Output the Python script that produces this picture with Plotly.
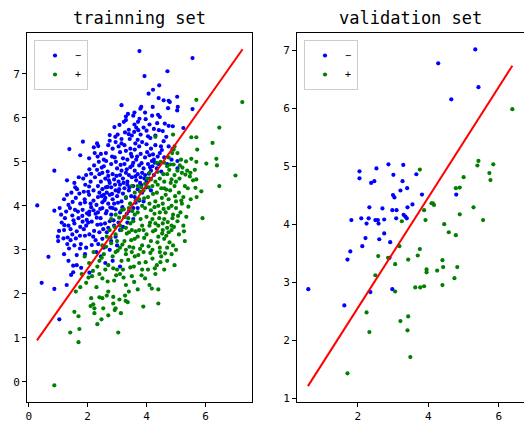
import plotly.graph_objects as go

# training set, class "-" (blue)
train_neg = [
    (3.76, 7.52), (5.56, 7.36), (4.71, 7.06), (3.93, 6.95), (4.43, 6.74), (4.22, 6.64), (4.07, 6.55),
    (3.15, 6.29), (5.04, 6.48), (4.41, 6.45), (4.58, 6.40), (4.75, 6.39), (4.79, 6.36), (5.56, 6.20),
    (5.06, 6.25), (5.04, 6.17), (4.73, 6.22), (3.82, 6.25), (4.21, 6.25), (4.19, 6.05), (4.39, 6.07),
    (3.37, 6.09), (3.59, 6.12), (3.79, 6.21), (3.30, 6.03), (4.45, 6.02), (3.55, 6.05), (3.95, 6.12),
    (3.76, 5.98), (4.36, 5.88), (4.62, 5.87), (4.75, 5.82), (4.89, 5.81), (5.25, 5.77), (3.08, 5.84),
    (2.91, 5.79), (3.23, 5.91), (3.59, 5.85), (3.71, 5.91), (3.40, 5.73), (3.58, 5.68), (3.80, 5.62),
    (3.50, 5.60), (3.40, 5.63), (2.75, 5.61), (2.94, 5.57), (3.90, 5.78), (4.00, 5.71), (4.10, 5.85),
    (4.25, 5.75), (4.05, 5.58), (4.13, 5.54), (4.30, 5.60), (3.65, 5.78), (3.30, 5.95), (4.55, 5.70),
    (3.15, 5.52),
    (1.84, 5.46), (1.38, 5.29), (2.32, 5.42), (2.36, 5.36), (2.21, 5.33), (2.75, 5.48), (2.70, 5.38),
    (2.85, 5.30), (3.05, 5.35), (3.15, 5.42), (3.25, 5.38), (2.24, 5.20), (2.45, 5.18), (2.62, 5.20),
    (2.92, 5.10), (2.34, 5.12), (3.10, 5.22), (3.30, 5.25), (3.45, 5.30), (3.60, 5.28), (3.75, 5.35),
    (3.85, 5.45), (4.00, 5.40), (4.15, 5.30), (4.30, 5.38), (4.49, 5.35), (4.58, 5.47), (4.75, 5.35),
    (4.88, 5.29), (4.45, 5.20), (4.60, 5.10), (4.85, 5.05), (5.05, 5.02), (3.50, 5.12), (3.65, 5.05),
    (3.80, 5.18), (3.95, 5.10), (4.10, 5.15), (4.25, 5.05), (3.35, 5.05), (3.20, 5.08), (2.55, 5.05),
    (2.05, 5.08), (1.75, 5.15), (2.95, 5.45), (3.70, 5.50),
    (0.87, 4.80), (2.06, 4.83), (1.70, 4.65), (1.85, 4.62), (2.38, 5.00), (2.96, 5.00), (2.32, 4.82),
    (2.50, 4.75), (2.68, 4.78), (2.85, 4.72), (3.00, 4.85), (3.15, 4.80), (3.30, 4.75), (3.45, 4.88),
    (3.60, 4.80), (3.75, 4.92), (3.90, 4.85), (4.05, 4.95), (4.20, 4.90), (4.35, 4.85), (4.50, 4.78),
    (4.70, 4.95), (5.05, 4.85), (4.25, 4.70), (4.10, 4.62), (3.95, 4.70), (3.80, 4.65), (3.65, 4.58),
    (3.50, 4.65), (3.35, 4.55), (3.20, 4.62), (3.05, 4.55), (2.90, 4.60), (2.75, 4.52), (2.60, 4.62),
    (2.45, 4.55), (2.25, 4.65), (2.10, 4.55), (1.95, 4.70), (1.55, 4.52), (2.55, 4.90), (2.80, 4.95),
    (3.25, 4.95), (3.55, 4.98), (3.85, 4.75), (4.00, 4.55), (3.70, 4.72), (3.40, 4.70), (3.10, 4.70),
    (2.70, 4.68), (2.40, 4.72), (4.15, 4.80), (4.40, 4.95), (1.30, 4.58),
    (2.05, 4.44), (1.64, 4.38), (1.87, 4.32), (1.30, 4.25), (1.45, 4.30), (1.60, 4.18), (1.75, 4.05),
    (1.90, 4.15), (2.05, 4.25), (2.20, 4.35), (2.35, 4.45), (2.50, 4.38), (2.65, 4.30), (2.80, 4.42),
    (2.95, 4.35), (3.10, 4.48), (3.25, 4.40), (3.40, 4.35), (3.55, 4.45), (3.70, 4.38), (3.85, 4.30),
    (4.00, 4.42), (4.15, 4.35), (2.20, 4.12), (2.35, 4.20), (2.50, 4.08), (2.60, 4.18), (2.70, 4.05),
    (2.85, 4.15), (3.00, 4.22), (3.15, 4.10), (3.30, 4.18), (3.45, 4.05), (3.60, 4.20), (3.75, 4.12),
    (2.40, 4.30), (2.75, 4.25), (3.05, 4.32), (2.30, 4.02), (2.55, 4.25), (2.90, 4.05), (3.20, 4.28),
    (1.49, 4.09), (1.91, 4.08), (1.35, 4.02), (1.20, 4.15), (2.10, 4.05), (2.62, 4.42), (3.35, 4.48),
    (3.90, 4.10),
    (0.87, 3.89), (1.57, 3.91), (1.83, 3.91), (2.06, 3.87), (1.23, 3.72), (1.48, 3.78), (1.21, 3.56),
    (1.69, 3.72), (1.83, 3.64), (1.97, 3.68), (2.14, 3.64), (2.31, 3.73), (2.44, 3.72), (2.59, 3.60),
    (2.20, 3.90), (2.35, 3.85), (2.50, 3.95), (2.65, 3.88), (2.80, 3.80), (2.95, 3.92), (3.10, 3.85),
    (3.25, 3.75), (3.40, 3.88), (3.55, 3.70), (3.70, 3.95), (2.75, 3.65), (2.90, 3.55), (3.05, 3.62),
    (3.20, 3.52), (1.10, 3.80), (1.35, 3.55), (1.55, 3.60), (1.75, 3.52), (1.95, 3.55), (2.70, 3.50),
    (2.45, 3.58), (3.35, 3.62), (2.05, 3.80), (1.40, 3.95), (1.05, 3.95), (2.85, 3.95), (3.55, 3.95),
    (1.03, 3.43), (0.99, 3.30), (1.18, 3.26), (1.32, 3.28), (1.48, 3.35), (1.60, 3.26), (1.74, 3.32),
    (1.91, 3.32), (2.06, 3.35), (2.22, 3.43), (2.19, 3.30), (1.31, 3.13), (1.37, 3.03), (1.77, 3.13),
    (1.74, 3.03), (2.14, 3.11), (2.36, 3.13), (2.50, 3.25), (2.65, 3.40), (2.80, 3.20), (2.95, 3.30),
    (3.10, 3.45), (2.55, 3.05), (2.75, 3.00), (1.00, 3.20), (1.55, 3.10), (1.95, 3.05), (2.40, 3.40),
    (3.00, 3.10), (1.20, 3.45),
    (0.67, 2.84), (1.63, 2.88), (1.91, 2.90), (1.63, 2.65), (1.51, 2.64), (1.78, 2.59), (2.06, 2.48),
    (2.30, 2.95), (2.60, 2.70), (2.85, 2.75), (3.10, 2.62), (2.45, 2.85), (1.20, 2.90), (1.35, 2.75),
    (0.44, 2.25), (0.87, 2.11), (1.44, 2.43), (1.51, 2.49), (1.29, 2.20), (1.04, 1.42), (0.29, 4.01),
    (3.52, 4.92), (3.68, 5.12), (3.83, 4.97), (4.02, 5.22), (4.18, 5.02), (3.47, 5.18), (3.33, 4.83),
    (3.12, 4.93), (2.98, 4.68), (3.62, 4.67), (3.78, 4.52), (3.93, 4.62), (4.12, 4.88), (4.28, 4.98),
    (3.42, 4.42), (3.22, 4.52), (2.93, 4.48), (2.68, 4.43), (2.83, 4.27), (2.57, 4.13), (2.43, 3.93),
    (2.27, 3.82), (2.12, 3.97), (1.98, 3.83), (1.82, 3.77), (1.67, 3.87), (1.52, 3.67), (1.42, 3.47),
    (1.63, 3.42), (1.87, 3.47), (2.02, 3.62), (2.33, 3.57), (2.62, 3.83), (2.77, 3.96), (3.03, 4.07),
    (3.18, 3.97), (3.33, 3.82), (3.48, 4.22), (3.63, 4.07), (3.82, 4.47), (4.08, 4.73), (4.22, 5.17),
    (4.38, 5.12), (4.52, 5.27), (4.67, 5.57), (4.42, 5.72), (3.97, 5.97), (3.62, 5.42), (3.43, 5.52),
    (3.27, 5.67), (3.02, 5.62), (2.83, 5.12), (2.63, 5.02), (2.48, 4.87), (2.22, 4.92), (2.12, 4.73),
    (1.92, 4.48), (1.72, 4.28), (1.58, 4.42), (2.47, 4.22), (2.72, 4.58), (3.07, 4.38), (2.88, 3.67),
    (2.53, 3.47), (2.27, 3.22), (1.42, 3.22), (1.12, 3.62), (1.27, 3.87), (2.02, 4.32), (3.72, 5.72),
]

# training set, class "+" (green)
train_pos = [
    (7.25, 6.36), (5.69, 6.41), (6.47, 5.78), (5.52, 5.56), (5.69, 5.56), (4.90, 5.62), (4.30, 5.57),
    (6.24, 5.43), (5.72, 5.28), (6.37, 5.07), (5.17, 5.05), (5.34, 5.01), (5.52, 5.07), (5.69, 5.00),
    (4.87, 5.20), (4.92, 5.28), (4.35, 4.98), (4.48, 5.00), (4.60, 4.98), (4.75, 5.10), (5.05, 5.20),
    (4.95, 5.35),
    (6.39, 4.92), (6.03, 4.96), (7.02, 4.69), (5.38, 4.80), (5.49, 4.75), (5.32, 4.71), (5.47, 4.67),
    (5.64, 4.82), (5.69, 4.60), (5.13, 4.92), (4.92, 4.94), (4.81, 4.94), (4.70, 4.90), (4.95, 4.70),
    (5.05, 4.80), (5.20, 4.75), (4.85, 4.60), (4.60, 4.55), (4.45, 4.62), (4.30, 4.55), (4.15, 4.60),
    (3.95, 4.50), (4.10, 4.75), (4.70, 4.72), (5.00, 4.55),
    (6.47, 4.45), (5.86, 4.33), (5.66, 4.41), (5.40, 4.40), (5.25, 4.20), (5.10, 4.30), (4.95, 4.45),
    (4.80, 4.35), (4.65, 4.25), (4.50, 4.40), (4.35, 4.30), (4.20, 4.45), (4.05, 4.20), (3.90, 4.35),
    (3.75, 4.15), (3.60, 4.30), (3.50, 4.45), (3.45, 4.05), (3.70, 4.45), (4.10, 4.05), (4.30, 4.10),
    (4.55, 4.05), (4.75, 4.15), (5.00, 4.10), (5.20, 4.05), (5.50, 4.15), (5.70, 4.20), (3.30, 4.20),
    (4.85, 4.00), (4.40, 4.00), (3.85, 4.00), (4.60, 4.40), (5.30, 4.45),
    (5.90, 3.72), (5.25, 3.55), (5.05, 3.65), (4.90, 3.80), (4.75, 3.95), (4.60, 3.70), (4.45, 3.85),
    (4.30, 3.60), (4.15, 3.90), (4.00, 3.75), (3.85, 3.55), (3.70, 3.85), (3.55, 3.65), (3.40, 3.95),
    (3.25, 3.75), (3.10, 3.55), (2.95, 3.80), (2.80, 3.70), (4.85, 3.55), (4.70, 3.50), (4.20, 3.70),
    (3.95, 3.95), (4.55, 3.60), (3.30, 3.50), (3.80, 3.70), (4.40, 3.55), (5.15, 3.85), (5.35, 3.75),
    (4.10, 3.55), (3.60, 3.80), (5.00, 3.95), (4.65, 3.85), (3.15, 3.90), (3.45, 3.60),
    (5.30, 3.20), (5.10, 3.35), (4.90, 3.10), (4.75, 3.40), (4.60, 3.25), (4.45, 3.05), (4.30, 3.45),
    (4.15, 3.20), (4.00, 3.35), (3.85, 3.10), (3.70, 3.30), (3.55, 3.05), (3.40, 3.40), (3.25, 3.20),
    (3.10, 3.05), (2.95, 3.35), (2.80, 3.15), (2.65, 3.30), (2.50, 3.10), (4.85, 3.45), (4.55, 3.45),
    (4.20, 3.00), (3.90, 3.45), (3.60, 3.25), (3.30, 3.00), (3.00, 3.20), (4.70, 3.05), (4.40, 3.30),
    (3.75, 3.45), (3.50, 3.45), (5.00, 3.00), (3.15, 3.45), (2.75, 3.45),
    (4.85, 2.90), (4.70, 2.75), (4.50, 2.85), (4.35, 2.65), (4.20, 2.80), (4.05, 2.55), (3.90, 2.95),
    (3.75, 2.70), (3.60, 2.85), (3.45, 2.60), (3.30, 2.90), (3.15, 2.75), (3.00, 2.55), (2.85, 2.85),
    (2.70, 2.65), (2.55, 2.90), (2.40, 2.75), (2.20, 2.95), (2.05, 2.70), (1.90, 2.85), (4.60, 2.55),
    (3.85, 2.55), (3.50, 2.95), (2.95, 2.95), (2.60, 2.55), (4.45, 2.95), (3.20, 2.55), (4.95, 2.65),
    (4.30, 2.45), (4.10, 2.20), (3.95, 2.35), (3.70, 2.10), (3.50, 2.40), (3.30, 2.20), (3.10, 2.45),
    (2.90, 2.30), (2.70, 2.05), (2.50, 2.35), (2.30, 2.15), (2.15, 2.40), (1.95, 2.25), (1.80, 2.45),
    (1.60, 2.05), (4.40, 2.10), (3.40, 2.05), (2.40, 2.45), (1.75, 2.15),
    (2.12, 1.90), (2.40, 1.92), (2.50, 1.90), (2.65, 1.96), (2.87, 1.93), (3.08, 1.87), (3.27, 1.96),
    (3.29, 1.84), (3.36, 1.81), (2.10, 1.72), (2.19, 1.76), (2.23, 1.67), (2.53, 1.67), (2.87, 1.78),
    (2.95, 1.67), (2.92, 1.63), (3.13, 1.56), (2.70, 1.51), (2.23, 1.56), (1.55, 1.59), (1.69, 1.49),
    (3.89, 1.71), (4.40, 1.78),
    (2.47, 1.42), (2.33, 1.31), (1.72, 1.20), (1.41, 1.12), (1.69, 0.90), (3.04, 1.12), (0.87, -0.08),
    (4.12, 3.62), (4.27, 3.82), (4.43, 3.72), (4.58, 3.93), (4.72, 3.63), (4.88, 3.72), (4.53, 3.37),
    (4.37, 3.17), (4.22, 3.42), (4.07, 3.08), (3.92, 3.27), (3.78, 3.02), (3.63, 3.42), (3.48, 3.22),
    (3.33, 3.37), (3.18, 3.12), (3.02, 2.98), (3.38, 2.77), (3.57, 2.62), (3.72, 2.88), (3.97, 2.72),
    (4.13, 2.93), (4.28, 2.58), (4.47, 2.72), (4.63, 2.92), (4.78, 3.17), (4.93, 3.52), (5.07, 3.77),
    (5.18, 4.12), (4.97, 4.22), (4.82, 4.52), (4.67, 4.37), (4.52, 4.18), (4.38, 4.48), (4.22, 4.27),
    (4.07, 4.42), (3.92, 4.17), (3.78, 4.32), (3.63, 4.12), (3.52, 3.88), (3.38, 3.72), (3.23, 3.92),
    (3.07, 3.73), (2.92, 3.52), (2.78, 3.28), (2.63, 3.07), (2.48, 2.82), (2.33, 2.62), (2.18, 2.52),
    (2.03, 2.37), (2.68, 2.28), (2.87, 2.58), (3.22, 2.37), (3.58, 2.27), (3.83, 2.42), (4.18, 2.12),
    (5.27, 3.42), (5.42, 3.98), (5.58, 4.58), (5.12, 4.62), (4.77, 4.82), (4.57, 4.72), (4.37, 4.77),
    (4.02, 4.62), (3.82, 4.42), (5.22, 4.87), (4.27, 3.97), (4.67, 3.32), (3.42, 3.07), (2.97, 2.42),
]

# validation set
val_neg = [
    (5.33, 7.01), (4.28, 6.77), (5.42, 6.36), (4.65, 6.15), (0.60, 2.88), (1.62, 2.60), (2.36, 2.83),
    (2.98, 2.88), (1.71, 3.39), (1.79, 3.53), (2.13, 3.62), (2.22, 3.76), (2.61, 3.74), (2.75, 3.84),
    (2.92, 3.69), (2.90, 3.42), (1.82, 4.07), (2.10, 4.10), (2.25, 4.01), (2.31, 4.10), (2.33, 4.29),
    (2.50, 4.07), (2.57, 4.07), (2.59, 4.01), (2.75, 4.08), (2.70, 4.27), (2.98, 4.24), (3.10, 4.24),
    (3.09, 4.10), (3.30, 4.16), (3.35, 4.13), (3.39, 4.10), (3.41, 4.29), (3.55, 4.34), (3.40, 4.62),
    (3.21, 4.58), (3.27, 4.74), (3.00, 4.50), (3.04, 4.46), (3.01, 4.85), (3.29, 5.02), (2.87, 5.03),
    (2.53, 4.96), (2.05, 4.91), (2.05, 4.79), (2.38, 4.71), (2.47, 4.74), (3.66, 4.86), (3.82, 4.51),
    (4.79, 4.51),
]
val_pos = [
    (6.38, 5.98), (5.42, 5.09), (5.39, 5.01), (5.84, 5.03), (5.73, 4.88), (5.76, 4.76), (5.00, 4.81),
    (4.89, 4.63), (4.78, 4.62), (4.89, 4.17), (5.28, 4.29), (5.55, 4.07), (3.76, 4.94), (3.88, 4.24),
    (4.09, 4.36), (4.16, 4.33), (4.13, 4.36), (3.92, 4.07), (4.45, 4.00), (4.58, 3.86), (4.78, 3.81),
    (3.25, 4.05), (3.18, 3.62), (3.76, 3.57), (3.70, 3.46), (3.43, 3.39), (2.86, 3.42), (2.58, 3.45),
    (3.06, 3.31), (4.40, 3.38), (4.42, 3.26), (4.82, 3.26), (3.95, 3.22), (3.95, 3.17), (4.25, 3.20),
    (4.74, 3.07), (2.50, 3.12), (3.06, 2.84), (3.63, 2.91), (3.77, 2.91), (3.88, 2.93), (4.40, 2.95),
    (2.25, 2.48), (3.21, 2.33), (3.43, 2.41), (3.41, 2.17), (2.33, 2.14), (3.49, 1.71), (1.71, 1.43),
]

# fitted boundary line end points
train_line_x = [0.28, 7.26]
train_line_y = [0.94, 7.56]
val_line_x = [0.59, 6.38]
val_line_y = [1.21, 6.73]

blue = "#0000ff"
green = "#008000"
red = "#ff0000"
mono = "DejaVu Sans Mono"

fig = go.Figure()

def add_points(pts, color, name, xa, ya, legend):
    fig.add_trace(go.Scatter(
        x=[p[0] for p in pts], y=[p[1] for p in pts], mode="markers", name=name,
        marker=dict(color=color, size=4.2, line=dict(width=0)),
        xaxis=xa, yaxis=ya, legend=legend,
    ))

add_points(train_neg, blue, "−", "x", "y", "legend")
add_points(train_pos, green, "+", "x", "y", "legend")
fig.add_trace(go.Scatter(x=train_line_x, y=train_line_y, mode="lines",
                         line=dict(color=red, width=2), showlegend=False, xaxis="x", yaxis="y"))

add_points(val_neg, blue, "−", "x2", "y2", "legend2")
add_points(val_pos, green, "+", "x2", "y2", "legend2")
fig.add_trace(go.Scatter(x=val_line_x, y=val_line_y, mode="lines",
                         line=dict(color=red, width=2), showlegend=False, xaxis="x2", yaxis="y2"))

# page body has an 8px margin, so the figure is a bit smaller and positions are shifted
OFF = 8
W, H = 532 - OFF, 434 - OFF

def px(v):
    return (v - OFF) / W

def py(v):
    return 1 - (v - OFF) / H

axis_style = dict(showline=True, linecolor="black", linewidth=1, mirror=True, showgrid=False,
                  zeroline=False, ticks="outside", ticklen=4, tickwidth=1, tickcolor="black",
                  tickfont=dict(family=mono, size=11, color="black"), automargin=False)

legend_style = dict(bgcolor="rgba(255,255,255,0.8)", bordercolor="#cccccc", borderwidth=1,
                    font=dict(family=mono, size=10, color="black"), xanchor="left", yanchor="top",
                    itemsizing="trace", tracegroupgap=0)

fig.update_layout(
    width=W, height=H,
    margin=dict(l=0, r=0, t=0, b=0),
    plot_bgcolor="white", paper_bgcolor="white",
    xaxis=dict(domain=[px(27), px(252)], range=[-0.058, 7.58], tickvals=[0, 2, 4, 6], anchor="y", **axis_style),
    yaxis=dict(domain=[py(402), py(33)], range=[-0.46, 7.93], tickvals=list(range(0, 8)), anchor="x", **axis_style),
    xaxis2=dict(domain=[px(297), px(524)], range=[0.28, 6.71], tickvals=[2, 4, 6], anchor="y2", **axis_style),
    yaxis2=dict(domain=[py(402), py(33)], range=[0.936, 7.293], tickvals=list(range(1, 8)), anchor="x2", **axis_style),
    legend=dict(x=px(34), y=py(40), **legend_style),
    legend2=dict(x=px(304), y=py(40), **legend_style),
    annotations=[
        dict(text="trainning set", x=px(139.5), y=py(18), xref="paper", yref="paper",
             showarrow=False, xanchor="center", yanchor="middle", font=dict(family=mono, size=17, color="black")),
        dict(text="validation set", x=px(410.5), y=py(18), xref="paper", yref="paper",
             showarrow=False, xanchor="center", yanchor="middle", font=dict(family=mono, size=17, color="black")),
    ],
)

fig.write_html("out.html")
